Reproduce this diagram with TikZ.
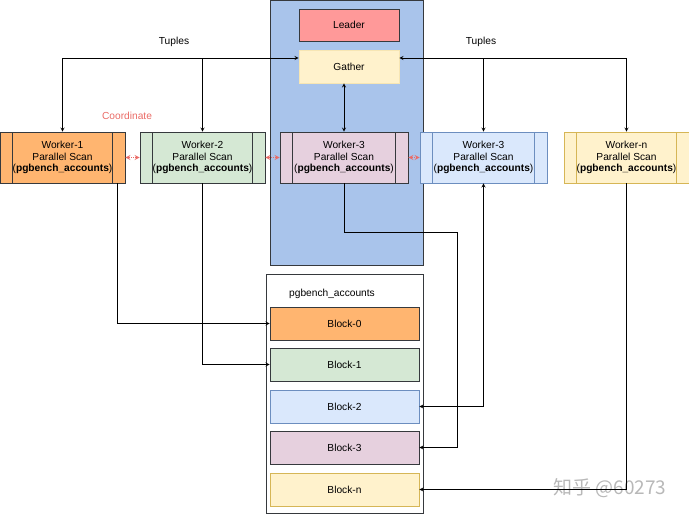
\documentclass[tikz,border=0pt]{standalone}
\usepackage{fontspec}
\setmainfont{Liberation Sans}
\newfontfamily\cjk{Noto Sans CJK SC}
\usepackage{tikz}
\definecolor{orng}{RGB}{255, 181, 112}
\definecolor{grn}{RGB}{213, 232, 212}
\definecolor{pnk}{RGB}{230, 208, 222}
\definecolor{lblu}{RGB}{218, 232, 252}
\definecolor{ylw}{RGB}{255, 242, 204}
\definecolor{ldr}{RGB}{255, 153, 153}
\definecolor{bgblu}{RGB}{169, 196, 235}
\definecolor{dk}{RGB}{54, 57, 61}
\definecolor{bluline}{RGB}{108, 142, 191}
\definecolor{ylwline}{RGB}{214, 182, 86}
\definecolor{crd}{RGB}{234, 107, 102}

\begin{document}
\begin{tikzpicture}
		[x=1pt,y=-1pt,every node/.style={inner sep=0pt,font=\fontsize{10.2}{11.8}\selectfont},
		 worker/.style={rectangle, minimum width=125pt, minimum height=51pt, align=center, line width=0.8pt,
		   path picture={\draw[line width=1.4pt,draw=#1]
		     ([xshift=12.5pt]path picture bounding box.north west) -- ([xshift=12.5pt]path picture bounding box.south west)
		     ([xshift=-12.5pt]path picture bounding box.north east) -- ([xshift=-12.5pt]path picture bounding box.south east);}},
		 block/.style={rectangle, minimum width=149pt, minimum height=33pt, line width=0.8pt},
		 link/.style={line width=0.8pt, color=black, >=stealth},
		 coord/.style={line width=1.2pt, color=crd, densely dotted, <->, >=stealth}]
		\useasboundingbox (0,0) rectangle (689,515);
		% leader side
		\node (main) [rectangle, minimum width=153pt, minimum height=265pt, fill=bgblu, draw=dk, line width=0.8pt] at (346.5, 132.5) {};
		\node (leader) [rectangle, minimum width=100pt, minimum height=32pt, fill=ldr, draw=dk, line width=0.8pt] at (349, 25) {Leader};
		\node (gather) [rectangle, minimum width=100pt, minimum height=33pt, fill=ylw, draw=ylw!80!ylwline, line width=0.8pt] at (349, 66.5) {Gather};
		% workers
		\node (w1) [worker=dk, fill=orng, draw=dk] at (62.5, 157.5) {Worker-1\\Parallel Scan\\(\textbf{pgbench\_accounts})};
		\node (w2) [worker=dk, fill=grn, draw=dk] at (202.5, 157.5) {Worker-2\\Parallel Scan\\(\textbf{pgbench\_accounts})};
		\node (w3) [worker=dk, fill=pnk, draw=dk, minimum width=128pt] at (344, 157.5) {Worker-3\\Parallel Scan\\(\textbf{pgbench\_accounts})};
		\node (w4) [worker=bluline, fill=lblu, draw=bluline, minimum width=127pt] at (483.5, 157.5) {Worker-3\\Parallel Scan\\(\textbf{pgbench\_accounts})};
		\node (wn) [worker=ylwline, fill=ylw, draw=ylwline] at (626.5, 157.5) {Worker-n\\Parallel Scan\\(\textbf{pgbench\_accounts})};
		% table blocks
		\node (table) [rectangle, minimum width=157pt, minimum height=239pt, fill=white, draw=dk, line width=0.8pt] at (344.5, 393.5) {};
		\node (tname) at (332, 294) {pgbench\_accounts};
		\node (b0) [block, fill=orng, draw=dk] at (344.5, 323.5) {Block-0};
		\node (b1) [block, fill=grn, draw=dk] at (344.5, 364.5) {Block-1};
		\node (b2) [block, fill=lblu, draw=bluline] at (344.5, 406.5) {Block-2};
		\node (b3) [block, fill=pnk, draw=dk] at (344.5, 447.5) {Block-3};
		\node (bn) [block, fill=ylw, draw=ylwline] at (344.5, 489.5) {Block-n};
		% labels
		\node (tl) at (174, 42) {Tuples};
		\node (tr) at (481, 42) {Tuples};
		\node (cl) [text=crd] at (127, 116) {Coordinate};
		\node (mark) [text=black!28, font=\cjk\fontsize{19}{22}\selectfont] at (610, 488) {知乎 @60273};
		% tuples to gather
		\coordinate (gl) at ([yshift=8.5pt]gather.west);
		\coordinate (gr) at ([yshift=8.5pt]gather.east);
		\draw [link, <->] (w1.north) |- (gl);
		\draw [link, ->] (w2.north |- gl) -- (w2.north);
		\draw [link, <->] (wn.north) |- (gr);
		\draw [link, ->] (w4.north |- gr) -- (w4.north);
		\draw [link, <->] (gather.south -| w3.north) -- (w3.north);
		% coordination
		\draw [coord] (w1.east) -- (w2.west);
		\draw [coord] (w2.east) -- (w3.west);
		\draw [coord] (w3.east) -- (w4.west);
		% scans
		\coordinate (c3) at (457, 232);
		\draw [link, ->] ([xshift=54.5pt]w1.south) |- (b0.west);
		\draw [link, ->] (w2.south) |- (b1.west);
		\draw [link, ->] (w3.south) |- (c3) |- (b3.east);
		\draw [link, <->] (b2.east) -| (w4.south);
		\draw [link, ->] (wn.south) |- (bn.east);
\end{tikzpicture}
\end{document}
